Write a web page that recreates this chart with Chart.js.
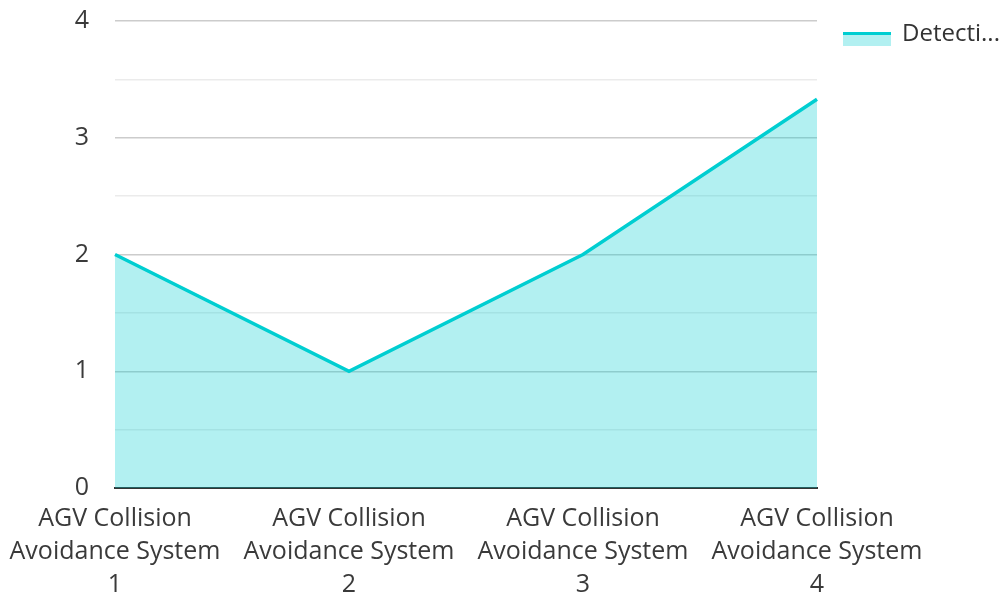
<!DOCTYPE html>
<html>
<head>
<meta charset="utf-8">
<script src="https://cdn.jsdelivr.net/npm/chart.js@4.4.1/dist/chart.umd.min.js"></script>
<style>
  html, body { margin: 0; padding: 0; background: #fff; }
  canvas { display: block; }
</style>
</head>
<body>
<canvas id="chart" width="1004" height="592"></canvas>
<script>
/* ================= DATA ================= */
const systems = [
    ["AGV Collision", "Avoidance System", "1"],
    ["AGV Collision", "Avoidance System", "2"],
    ["AGV Collision", "Avoidance System", "3"],
    ["AGV Collision", "Avoidance System", "4"]
];
const seriesName = "Detection Rate";
const detections = [2, 1, 2, 3.33];
const yTicks = [0, 1, 2, 3, 4];

/* ================= STYLE ================= */
const FONT = "'Open Sans', 'Noto Sans', sans-serif";
const LINE = "rgb(0, 206, 209)";
const FILL = "rgba(0, 206, 209, 0.3)";
const TEXT = "#3a3a3a";

// legend drawn by hand: swatch is a line on top of a filled box, text cut to fit
const sideLegend = {
    id: "sideLegend",
    afterDraw(chart) {
        const ctx = chart.ctx;
        const x = 843, y = 32;
        ctx.save();
        ctx.fillStyle = FILL;
        ctx.fillRect(x, y + 3, 48, 11);
        ctx.fillStyle = LINE;
        ctx.fillRect(x, y, 48, 3);

        ctx.font = "24px " + FONT;
        ctx.fillStyle = "#333";
        ctx.textBaseline = "middle";
        const maxW = chart.width - 902;
        let label = seriesName;
        if (ctx.measureText(label).width > maxW) {
            while (label.length && ctx.measureText(label + "...").width > maxW) {
                label = label.slice(0, -1);
            }
            label += "...";
        }
        ctx.fillText(label, 902, y + 2);
        ctx.restore();
    }
};

// keep the plot box where the reference has it, labels may overhang
function noOverhang(scale) {
    scale.paddingTop = 0;
    scale.paddingBottom = 0;
    scale.paddingLeft = 0;
    scale.paddingRight = 0;
}

/* ================= CHART ================= */
new Chart(document.getElementById("chart"), {
    type: "line",
    data: {
        labels: systems,
        datasets: [{
            label: seriesName,
            data: detections,
            borderColor: LINE,
            backgroundColor: FILL,
            borderWidth: 3.5,
            fill: "origin",
            tension: 0,
            pointRadius: 0,
            pointHoverRadius: 0
        }]
    },
    options: {
        responsive: false,
        animation: false,
        layout: { padding: { top: 21, right: 187, bottom: 0, left: 0 } },
        plugins: {
            legend: { display: false },
            tooltip: { enabled: false }
        },
        scales: {
            x: {
                offset: false,
                grid: { display: false, drawTicks: false },
                border: { display: true, color: "#333", width: 2 },
                ticks: {
                    color: TEXT,
                    font: { family: FONT, size: 25, lineHeight: 1.32 },
                    padding: 14,
                    maxRotation: 0,
                    autoSkip: false
                },
                afterFit(scale) { scale.height = 104; noOverhang(scale); }
            },
            y: {
                min: 0,
                max: 4,
                grid: {
                    drawTicks: false,
                    color: c => yTicks.includes(c.tick.value) ? "#cccccc" : "#ebebeb",
                    lineWidth: 1.5
                },
                border: { display: false },
                ticks: {
                    stepSize: 0.5,
                    color: TEXT,
                    font: { family: FONT, size: 25 },
                    padding: 26,
                    callback: v => yTicks.includes(v) ? v : ""
                },
                afterFit(scale) { scale.width = 115; noOverhang(scale); }
            }
        }
    },
    plugins: [sideLegend]
});
</script>
</body>
</html>
